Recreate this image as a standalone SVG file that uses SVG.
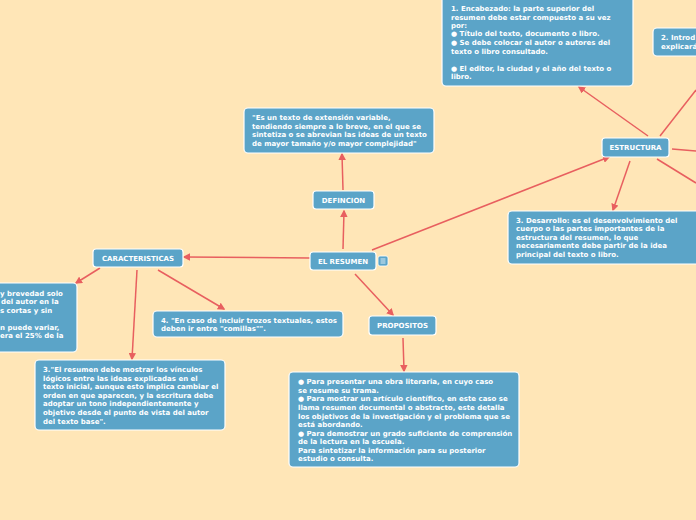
<svg xmlns="http://www.w3.org/2000/svg" width="696" height="520" viewBox="0 0 696 520">
<defs>
<marker id="a" viewBox="0 0 10 10" refX="8" refY="5" markerWidth="5" markerHeight="5" orient="auto"><path d="M0,0L10,5L0,10z" fill="#e85f5f"/></marker>
<style>
.b{fill:#5ba4c8;stroke:#fff;stroke-width:1.2}
.t{font-family:"DejaVu Sans",sans-serif;font-weight:bold;font-size:7px;fill:#fff}
.c{stroke:#e85f5f;stroke-width:1.5;fill:none;marker-end:url(#a)}
.n{stroke:#e85f5f;stroke-width:1.5;fill:none}
</style>
</defs>
<rect width="696" height="520" fill="#ffe6b7"/>
<g id="connectors">
<path class="c" d="M343,249L344,211"/>
<path class="c" d="M343,190L342,154"/>
<path class="c" d="M372,250L609,157"/>
<path class="c" d="M630,161L613,210"/>
<path class="c" d="M648,136L579,87"/>
<path class="n" d="M660,136L696,90"/>
<path class="n" d="M672,149L696,151"/>
<path class="n" d="M657,159L696,183"/>
<path class="c" d="M310,258L184,257"/>
<path class="c" d="M355,274L393,315"/>
<path class="c" d="M403,338L404,371"/>
<path class="c" d="M100,268L76,283"/>
<path class="c" d="M137,270L132,359"/>
<path class="c" d="M158,270L224,309"/>
</g>
<g id="n1"><rect class="b" x="442" y="-4" width="191" height="90" rx="4"/>
<text class="t" x="451" y="11">1. Encabezado: la parte superior del</text>
<text class="t" x="451" y="20">resumen debe estar compuesto a su vez</text>
<text class="t" x="451" y="28">por:</text>
<text class="t" x="451" y="36">●      Título del texto, documento o libro.</text>
<text class="t" x="451" y="45">●      Se debe colocar el autor o autores del</text>
<text class="t" x="451" y="54">texto o libro consultado.</text>
<text class="t" x="451" y="71">●      El editor, la ciudad y el año del texto o</text>
<text class="t" x="451" y="79">libro.</text></g>
<g id="n2"><rect class="b" x="653" y="28" width="60" height="28" rx="4"/>
<text class="t" x="661" y="40">2. Introd</text><text class="t" x="661" y="49">explicará</text></g>
<g id="estructura"><rect class="b" x="602" y="138" width="67" height="19" rx="3"/><text class="t" x="635.5" y="150" text-anchor="middle">ESTRUCTURA</text></g>
<g id="n3"><rect class="b" x="508" y="211" width="200" height="53" rx="4"/>
<text class="t" x="516" y="223">3. Desarrollo: es el desenvolvimiento del</text>
<text class="t" x="516" y="231">cuerpo o las partes importantes de la</text>
<text class="t" x="516" y="240">estructura del resumen, lo que</text>
<text class="t" x="516" y="248">necesariamente debe partir de la idea</text>
<text class="t" x="516" y="257">principal del texto o libro.</text></g>
<g id="def"><rect class="b" x="244" y="108" width="190" height="45" rx="4"/>
<text class="t" x="252" y="120">"Es un texto de extensión variable,</text>
<text class="t" x="252" y="129">tendiendo siempre a lo breve, en el que se</text>
<text class="t" x="252" y="137">sintetiza o se abrevian las ideas de un texto</text>
<text class="t" x="252" y="146">de mayor tamaño y/o mayor complejidad"</text></g>
<g id="defincion"><rect class="b" x="313" y="191" width="61" height="18" rx="3"/><text class="t" x="343.5" y="203" text-anchor="middle">DEFINCION</text></g>
<g id="resumen"><rect class="b" x="310" y="252" width="66" height="18" rx="3"/><text class="t" x="343" y="264" text-anchor="middle">EL RESUMEN</text>
<rect x="378" y="256" width="10" height="10" rx="2" fill="#5ba4c8" stroke="#fff" stroke-width="0.8"/><path d="M380.5,259h5M380.5,261h5M380.5,263h5" stroke="#fff" stroke-width="0.8"/></g>
<g id="carac"><rect class="b" x="93" y="249" width="90" height="18" rx="3"/><text class="t" x="138" y="261" text-anchor="middle">CARACTERISTICAS</text></g>
<g id="left"><rect class="b" x="-6" y="283" width="83" height="69" rx="4"/>
<text class="t" x="0" y="296">y brevedad solo</text>
<text class="t" x="1" y="304">del autor en la</text>
<text class="t" x="0" y="313">s cortas y sin</text>
<text class="t" x="0" y="330">n puede variar,</text>
<text class="t" x="0" y="338">era el 25% de la</text></g>
<g id="n4"><rect class="b" x="153" y="311" width="190" height="26" rx="4"/>
<text class="t" x="161" y="323">4. "En caso de incluir trozos textuales, estos</text>
<text class="t" x="161" y="331">deben ir entre "comillas"".</text></g>
<g id="n3c"><rect class="b" x="35" y="360" width="190" height="70" rx="4"/>
<text class="t" x="43" y="372">3."El resumen debe mostrar los vínculos</text>
<text class="t" x="43" y="381">lógicos entre las ideas explicadas en el</text>
<text class="t" x="43" y="389">texto inicial, aunque esto implica cambiar el</text>
<text class="t" x="43" y="398">orden en que aparecen, y la escritura debe</text>
<text class="t" x="43" y="406">adoptar un tono independientemente y</text>
<text class="t" x="43" y="415">objetivo desde el punto de vista del autor</text>
<text class="t" x="43" y="424">del texto base".</text></g>
<g id="propositos"><rect class="b" x="369" y="316" width="67" height="19" rx="3"/><text class="t" x="402.5" y="328" text-anchor="middle">PROPOSITOS</text></g>
<g id="prop"><rect class="b" x="289" y="372" width="230" height="95" rx="4"/>
<text class="t" x="298" y="384">●      Para presentar una obra literaria, en cuyo caso</text>
<text class="t" x="298" y="393">se resume su trama.</text>
<text class="t" x="298" y="401">● Para mostrar un artículo científico, en este caso se</text>
<text class="t" x="298" y="410">llama resumen documental o abstracto, este detalla</text>
<text class="t" x="298" y="419">los objetivos de la investigación y el problema que se</text>
<text class="t" x="298" y="427">está abordando.</text>
<text class="t" x="298" y="436">● Para demostrar un grado suficiente de comprensión</text>
<text class="t" x="298" y="444">de la lectura en la escuela.</text>
<text class="t" x="298" y="453">Para sintetizar la información para su posterior</text>
<text class="t" x="298" y="461">estudio o consulta.</text></g>
</svg>
